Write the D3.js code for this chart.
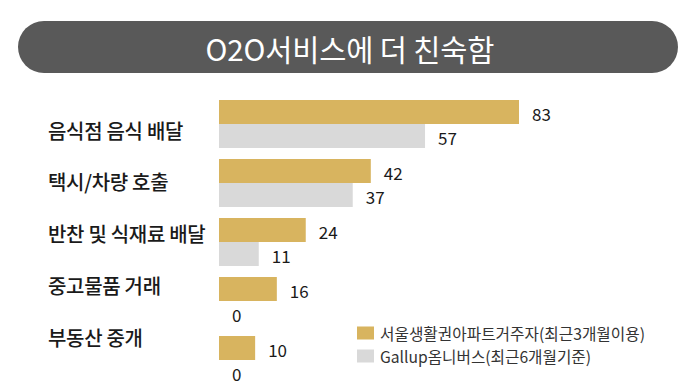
<!DOCTYPE html>
<html><head><meta charset="utf-8">
<script src="https://cdn.jsdelivr.net/npm/d3@7"></script>
<style>
html,body{margin:0;padding:0;background:#fff;}
text{font-family:"Noto Sans CJK KR","Noto Sans",sans-serif;}
</style></head>
<body>
<svg id="chart" width="700" height="392"></svg>
<script>
const title = "O2O서비스에 더 친숙함";
const categories = ["음식점 음식 배달","택시/차량 호출","반찬 및 식재료 배달","중고물품 거래","부동산 중개"];
const seriesNames = ["서울생활권아파트거주자(최근3개월이용)","Gallup옴니버스(최근6개월기준)"];
const seoulValues = [83,42,24,16,10];
const gallupValues = [57,37,11,0,0];
const colors = ["#D8B45F","#D9D9D9"];

const svg = d3.select("#chart");

// title pill
svg.append("rect").attr("x",18).attr("y",21).attr("width",660).attr("height",52)
  .attr("rx",26).attr("ry",26).attr("fill","#595959");
svg.append("text").attr("x",350).attr("y",48).attr("text-anchor","middle")
  .attr("dominant-baseline","central").attr("fill","#fff")
  .attr("font-size",29.5).attr("textLength",289).attr("lengthAdjust","spacing").text(title);

const x = d3.scaleLinear().domain([0,83]).range([219,519]);
const y = d3.scaleBand().domain(categories).range([100,100+59*5-11]).paddingInner(11/59).paddingOuter(0);
const ys = d3.scaleBand().domain([0,1]).range([0,y.bandwidth()]);
const yLabel = d3.scalePoint().domain(categories).range([130,337]);

const data = categories.map((c,i)=>({c, vals:[seoulValues[i],gallupValues[i]]}));

const g = svg.append("g");
const grp = g.selectAll("g.grp").data(data).enter().append("g")
  .attr("transform",d=>`translate(0,${y(d.c)})`);
grp.selectAll("rect").data(d=>d.vals).enter().append("rect")
  .attr("x",x(0)).attr("y",(v,i)=>ys(i)).attr("height",ys.bandwidth())
  .attr("width",v=>x(v)-x(0)).attr("fill",(v,i)=>colors[i]);
grp.selectAll("text.val").data(d=>d.vals).enter().append("text")
  .attr("class","val").attr("x",v=>x(v)+13).attr("y",(v,i)=>ys(i)+ys.bandwidth()/2+1)
  .attr("dominant-baseline","central").attr("font-size",17).attr("fill","#1a1a1a")
  .text(v=>v);

// category labels
svg.selectAll("text.cat").data(categories).enter().append("text")
  .attr("class","cat").attr("x",48).attr("y",d=>yLabel(d))
  .attr("dominant-baseline","central").attr("font-size",20).attr("font-weight",500)
  .attr("letter-spacing",-0.3).attr("fill","#1a1a1a").text(d=>d);

// legend
const legY = [333,356];
const legW = [265,211];
const leg = svg.selectAll("g.leg").data(seriesNames).enter().append("g");
leg.append("rect").attr("x",357).attr("y",(d,i)=>legY[i]-6.5).attr("width",17).attr("height",13)
  .attr("fill",(d,i)=>colors[i]);
leg.append("text").attr("x",380).attr("y",(d,i)=>legY[i])
  .attr("dominant-baseline","central").attr("font-size",16).attr("fill","#333")
  .attr("textLength",(d,i)=>legW[i]).attr("lengthAdjust","spacingAndGlyphs")
  .text(d=>d);
</script>
</body></html>
